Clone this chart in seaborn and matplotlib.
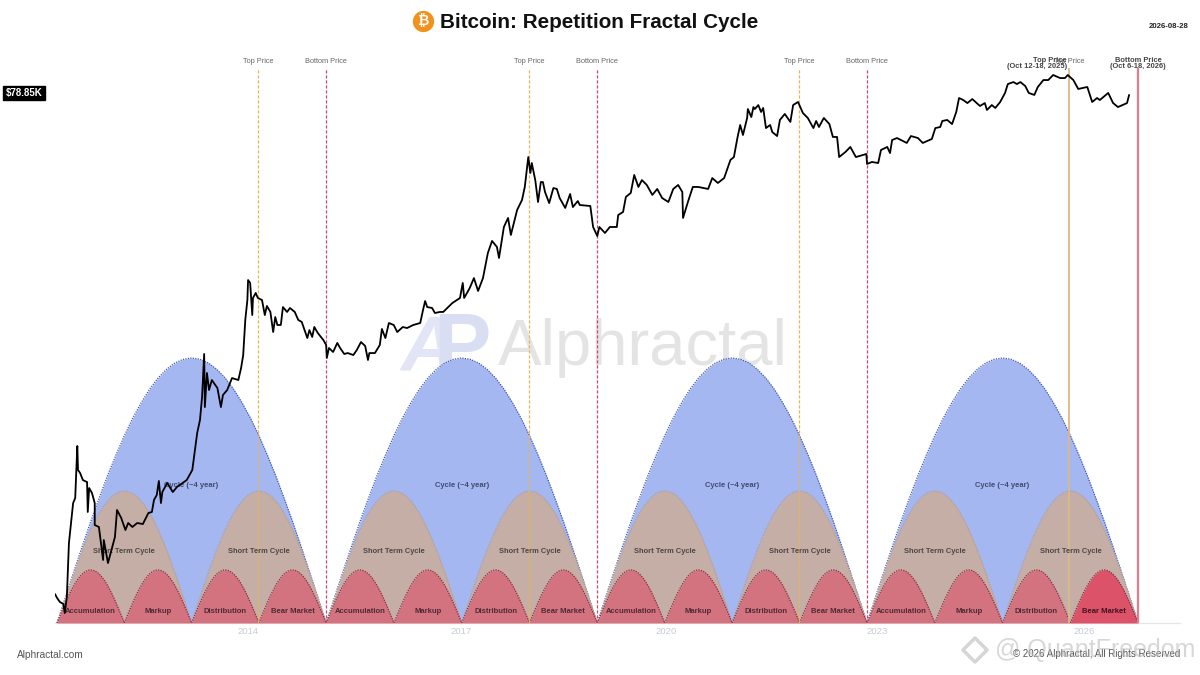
import numpy as np
import pandas as pd
import matplotlib
matplotlib.use("Agg")
import matplotlib.pyplot as plt
import seaborn as sns

# Price: decimal year and log10 of the USD price
years = [2011.23, 2011.26, 2011.30, 2011.35, 2011.37, 2011.40, 2011.43, 2011.47, 2011.49, 2011.52,
         2011.55, 2011.56, 2011.59, 2011.63, 2011.69, 2011.70, 2011.72, 2011.76, 2011.80, 2011.80,
         2011.86, 2011.92, 2011.93, 2011.99, 2012.09, 2012.12, 2012.18, 2012.24, 2012.28, 2012.34,
         2012.41, 2012.49, 2012.57, 2012.62, 2012.65, 2012.69, 2012.72, 2012.75, 2012.77, 2012.84,
         2012.92, 2012.98, 2013.12, 2013.20, 2013.27, 2013.31, 2013.34, 2013.37, 2013.38, 2013.41,
         2013.44, 2013.48, 2013.56, 2013.61, 2013.64, 2013.70, 2013.77, 2013.86, 2013.90, 2013.93,
         2013.96, 2013.99, 2014.00, 2014.03, 2014.06, 2014.07, 2014.11, 2014.14, 2014.20, 2014.24,
         2014.27, 2014.32, 2014.36, 2014.39, 2014.42, 2014.47, 2014.50, 2014.56, 2014.60, 2014.67,
         2014.72, 2014.77, 2014.85, 2014.88, 2014.92, 2014.95, 2015.00, 2015.08, 2015.12, 2015.13,
         2015.16, 2015.22, 2015.28, 2015.32, 2015.38, 2015.43, 2015.51, 2015.56, 2015.62, 2015.68,
         2015.72, 2015.74, 2015.82, 2015.89, 2015.92, 2015.97, 2016.02, 2016.09, 2016.14, 2016.22,
         2016.28, 2016.37, 2016.47, 2016.51, 2016.54, 2016.57, 2016.64, 2016.68, 2016.75, 2016.80,
         2016.93, 2017.04, 2017.08, 2017.10, 2017.18, 2017.24, 2017.30, 2017.37, 2017.44, 2017.50,
         2017.57, 2017.60, 2017.67, 2017.73, 2017.77, 2017.86, 2017.93, 2017.97, 2018.02, 2018.05,
         2018.07, 2018.12, 2018.16, 2018.20, 2018.23, 2018.26, 2018.32, 2018.38, 2018.43, 2018.47,
         2018.55, 2018.62, 2018.66, 2018.73, 2018.76, 2018.91, 2018.95, 2019.01, 2019.04, 2019.12,
         2019.19, 2019.29, 2019.31, 2019.38, 2019.42, 2019.49, 2019.54, 2019.60, 2019.65, 2019.72,
         2019.80, 2019.87, 2019.94, 2020.03, 2020.10, 2020.17, 2020.23, 2020.24, 2020.31, 2020.38,
         2020.46, 2020.60, 2020.66, 2020.74, 2020.83, 2020.92, 2020.97, 2021.02, 2021.06, 2021.10,
         2021.16, 2021.17, 2021.22, 2021.25, 2021.27, 2021.32, 2021.36, 2021.39, 2021.43, 2021.49,
         2021.52, 2021.59, 2021.63, 2021.70, 2021.78, 2021.82, 2021.89, 2021.96, 2022.03, 2022.11,
         2022.15, 2022.19, 2022.26, 2022.34, 2022.39, 2022.45, 2022.48, 2022.57, 2022.64, 2022.72,
         2022.87, 2022.88, 2022.95, 2023.04, 2023.08, 2023.17, 2023.21, 2023.24, 2023.31, 2023.45,
         2023.51, 2023.61, 2023.68, 2023.81, 2023.86, 2023.93, 2023.96, 2024.03, 2024.10, 2024.16,
         2024.20, 2024.26, 2024.32, 2024.39, 2024.50, 2024.57, 2024.60, 2024.67, 2024.72, 2024.79,
         2024.86, 2024.90, 2024.98, 2025.03, 2025.08, 2025.15, 2025.20, 2025.28, 2025.33, 2025.41,
         2025.48, 2025.55, 2025.65, 2025.72, 2025.76, 2025.84, 2025.91, 2026.04, 2026.11, 2026.18,
         2026.22, 2026.34, 2026.41, 2026.48, 2026.61, 2026.64]
log_price = [1.145, 1.115, 1.085, 1.070, 1.002, 1.123, 1.529, 1.724, 1.829, 1.867,
             2.258, 2.078, 2.055, 2.002, 1.987, 1.762, 1.942, 1.905, 1.829, 1.664,
             1.649, 1.401, 1.551, 1.378, 1.574, 1.777, 1.717, 1.626, 1.679, 1.649,
             1.679, 1.671, 1.754, 1.762, 1.852, 1.890, 1.995, 1.829, 1.912, 1.980,
             1.912, 1.950, 2.002, 2.078, 2.356, 2.454, 2.627, 2.950, 2.551, 2.807,
             2.679, 2.754, 2.694, 2.551, 2.642, 2.679, 2.769, 2.754, 2.845, 2.942,
             3.206, 3.356, 3.506, 3.484, 3.243, 3.371, 3.409, 3.371, 3.356, 3.243,
             3.311, 3.266, 3.115, 3.228, 3.168, 3.168, 3.303, 3.266, 3.296, 3.266,
             3.206, 3.191, 3.070, 3.130, 3.078, 3.153, 3.108, 3.055, 3.018, 2.920,
             2.995, 2.965, 3.033, 2.995, 2.950, 2.957, 2.942, 2.980, 3.040, 3.010,
             2.905, 2.957, 2.957, 3.018, 3.138, 3.070, 3.183, 3.168, 3.115, 3.153,
             3.145, 3.168, 3.183, 3.281, 3.348, 3.303, 3.296, 3.258, 3.266, 3.266,
             3.333, 3.371, 3.484, 3.371, 3.446, 3.521, 3.424, 3.521, 3.709, 3.800,
             3.755, 3.672, 3.905, 3.973, 3.845, 4.033, 4.108, 4.206, 4.431, 4.311,
             4.386, 4.258, 4.093, 4.243, 4.243, 4.168, 4.085, 4.198, 4.191, 4.123,
             4.048, 4.153, 4.055, 4.100, 4.070, 4.063, 3.905, 3.837, 3.905, 3.860,
             3.905, 3.905, 3.995, 4.018, 4.131, 4.161, 4.296, 4.206, 4.258, 4.221,
             4.146, 4.191, 4.123, 4.093, 4.191, 4.221, 4.168, 3.973, 4.093, 4.206,
             4.206, 4.191, 4.273, 4.236, 4.273, 4.409, 4.431, 4.574, 4.672, 4.597,
             4.725, 4.792, 4.732, 4.807, 4.792, 4.822, 4.770, 4.800, 4.649, 4.672,
             4.619, 4.589, 4.710, 4.755, 4.695, 4.822, 4.845, 4.762, 4.725, 4.649,
             4.702, 4.657, 4.725, 4.679, 4.582, 4.582, 4.431, 4.469, 4.507, 4.431,
             4.454, 4.379, 4.394, 4.386, 4.484, 4.507, 4.461, 4.559, 4.574, 4.537,
             4.589, 4.574, 4.537, 4.567, 4.649, 4.657, 4.702, 4.710, 4.679, 4.770,
             4.875, 4.860, 4.837, 4.867, 4.815, 4.837, 4.785, 4.822, 4.800, 4.845,
             4.913, 4.980, 4.995, 4.980, 4.995, 4.965, 4.913, 4.898, 4.958, 5.010,
             5.010, 5.048, 5.025, 5.025, 5.048, 5.010, 4.943, 4.958, 4.845, 4.875,
             4.860, 4.913, 4.837, 4.807, 4.837, 4.898]

cycle_bounds = [2011.26, 2015.12, 2019.01, 2022.88, 2026.77]
top_years = [2014.14, 2018.03, 2021.91, 2025.78]
bottom_years = [2015.12, 2019.01, 2022.88, 2026.77]
tick_years = [2014.0, 2017.05, 2020.0, 2023.03, 2026.0]
tick_labels = ["2014", "2017", "2020", "2023", "2026"]
phases = ["Accumulation", "Markup", "Distribution", "Bear Market"]

# dome outline as a share of its height, left half (the right half mirrors it)
dome_half = [0, .098, .195, .290, .383, .471, .556, .634, .707, .773, .831, .882, .924, .957, .981, .995, 1.0]
dome = np.array(dome_half + dome_half[-2::-1])
u = np.linspace(0, 1, len(dome))

BASE = 0.927
TOP = 5.612
LINE_TOP = 5.101
cycle_h, short_h, phase_h = 1.993, 0.993, 0.399

sns.set_theme(style="white")
plt.rcParams["font.family"] = ["Liberation Sans", "DejaVu Sans"]

fig = plt.figure(figsize=(12, 6.75), dpi=100)
ax = fig.add_axes([55 / 1200, 52 / 675, 1125 / 1200, 623 / 675])
ax.set_xlim(2011.23, 2027.37)
ax.set_ylim(BASE, TOP)


def arch(x0, x1, h, fill, edge, z):
    xs = x0 + (x1 - x0) * u
    ys = BASE + h * dome
    ax.fill_between(xs, BASE, ys, color=fill, lw=0, zorder=z)
    ax.plot(xs, ys, color=edge, lw=0.9, ls=(0, (1, 1)), zorder=z + 0.1)


def ftext(px, py, s, **kw):
    kw.setdefault("ha", "center")
    kw.setdefault("va", "center")
    fig.text(px / 1200, 1 - py / 675, s, **kw)


# watermark sits behind everything
ftext(643, 348, "Alphractal", fontsize=47, color="#E4E4E4", zorder=-5)
ftext(429, 350, "A", fontsize=56, color="#E2E5F5", fontweight="bold", fontstyle="italic", zorder=-5)
ftext(462, 350, "P", fontsize=62, color="#DADEF3", fontweight="bold", zorder=-5)
ax.patch.set_alpha(0)

for i in range(4):
    c0, c1 = cycle_bounds[i], cycle_bounds[i + 1]
    step = (c1 - c0) / 4
    mid = (c0 + c1) / 2
    arch(c0, c1, cycle_h, "#A5B7F1", "#3F58AE", 1)
    arch(c0, mid, short_h, "#C5AEA5", "#B89C8E", 2)
    arch(mid, c1, short_h, "#C5AEA5", "#B89C8E", 2)
    ax.text(mid, BASE + 1.035, "Cycle (~4 year)", ha="center", va="center", fontsize=5.5,
            fontweight="bold", color="#3E4B70", zorder=5)
    for c in (c0 + step, c1 - step):
        ax.text(c, BASE + 0.54, "Short Term Cycle", ha="center", va="center", fontsize=5.4,
                fontweight="bold", color="#4D4646", zorder=5)
    for j, name in enumerate(phases):
        last = i == 3 and j == 3
        p0 = c0 + j * step
        arch(p0, p0 + step, phase_h, "#DC5269" if last else "#D3737F", "#8E2C44", 3)
        ax.text(p0 + step / 2, BASE + 0.085, name, ha="center", va="center", fontsize=5.5,
                fontweight="bold", color="#3F1420" if last else "#4F2A35", zorder=5)

# cycle markers, the last pair is solid
for i, (t, b) in enumerate(zip(top_years, bottom_years)):
    last = i == 3
    ax.vlines(t, BASE, LINE_TOP, color="#D9B98B" if last else "#E8B551", lw=1.3 if last else 0.9,
              ls="-" if last else (0, (2.5, 1.5)), zorder=4)
    ax.vlines(b, BASE, LINE_TOP, color="#E27D8E" if last else "#C6486A", lw=1.6 if last else 0.9,
              ls="-" if last else (0, (2.5, 1.5)), zorder=4)
    ax.text(t, LINE_TOP + 0.02, "Top Price", ha="center", va="bottom", fontsize=5.3, color="#666666")
    if not last:
        ax.text(b, LINE_TOP + 0.02, "Bottom Price", ha="center", va="bottom", fontsize=5.3, color="#666666")

df = pd.DataFrame({"year": years, "log_price": log_price})
sns.lineplot(data=df, x="year", y="log_price", color="black", lw=1.3, sort=False, estimator=None,
             ax=ax, zorder=6)

ax.set_xlabel("")
ax.set_ylabel("")
ax.set_yticks([])
ax.set_xticks(tick_years)
ax.set_xticklabels(tick_labels, fontsize=6.8, color="#C6CBD8")
ax.tick_params(axis="x", length=0, pad=3)
for side in ("top", "left", "right"):
    ax.spines[side].set_visible(False)
ax.spines["bottom"].set_color("#E6E6E6")
ax.spines["bottom"].set_linewidth(0.9)

# title and logo
ftext(440, 22, "Bitcoin: Repetition Fractal Cycle", ha="left", fontsize=14.9, fontweight="bold", color="#111111")
ax.scatter([(423 - 55) / 1125], [1 - 21 / 623], s=235, color="#F2921D", lw=0, transform=ax.transAxes,
           clip_on=False, zorder=8)
ftext(423, 21, "₿", fontsize=10, fontweight="bold", color="white", zorder=9)
ftext(1169, 27, "2026-08-28", fontsize=5.6, fontweight="bold", color="#222222")

# last cycle annotations
ftext(1050, 61, "Top Price", fontsize=5.4, fontweight="bold", color="#444444")
ftext(1037, 67, "(Oct 12-18, 2025)", fontsize=5.4, fontweight="bold", color="#444444")
ftext(1138, 61, "Bottom Price", fontsize=5.4, fontweight="bold", color="#444444")
ftext(1138, 67, "(Oct 6-18, 2026)", fontsize=5.4, fontweight="bold", color="#444444")

ftext(24, 93, "$78.85K", fontsize=7, fontweight="bold", color="white",
      bbox=dict(boxstyle="square,pad=0.25", fc="black", ec="black"))
ftext(17, 655, "Alphractal.com", ha="left", fontsize=7.3, color="#555555")

# footer with the repost watermark over it
ftext(1180, 654, "© 2026 Alphractal, All Rights Reserved", ha="right", fontsize=7, color="#555555", zorder=7)
ftext(995, 650, "@ QuantFreedom", ha="left", fontsize=18, color="#BDBDBD", alpha=0.6, zorder=8)
ax.scatter([(975 - 55) / 1125], [-(650 - 623) / 623], s=150, marker="D", facecolor="none", edgecolor="#D5D5D5",
           lw=2.5, transform=ax.transAxes, clip_on=False, zorder=8)

fig.savefig("out.png", dpi=100)
